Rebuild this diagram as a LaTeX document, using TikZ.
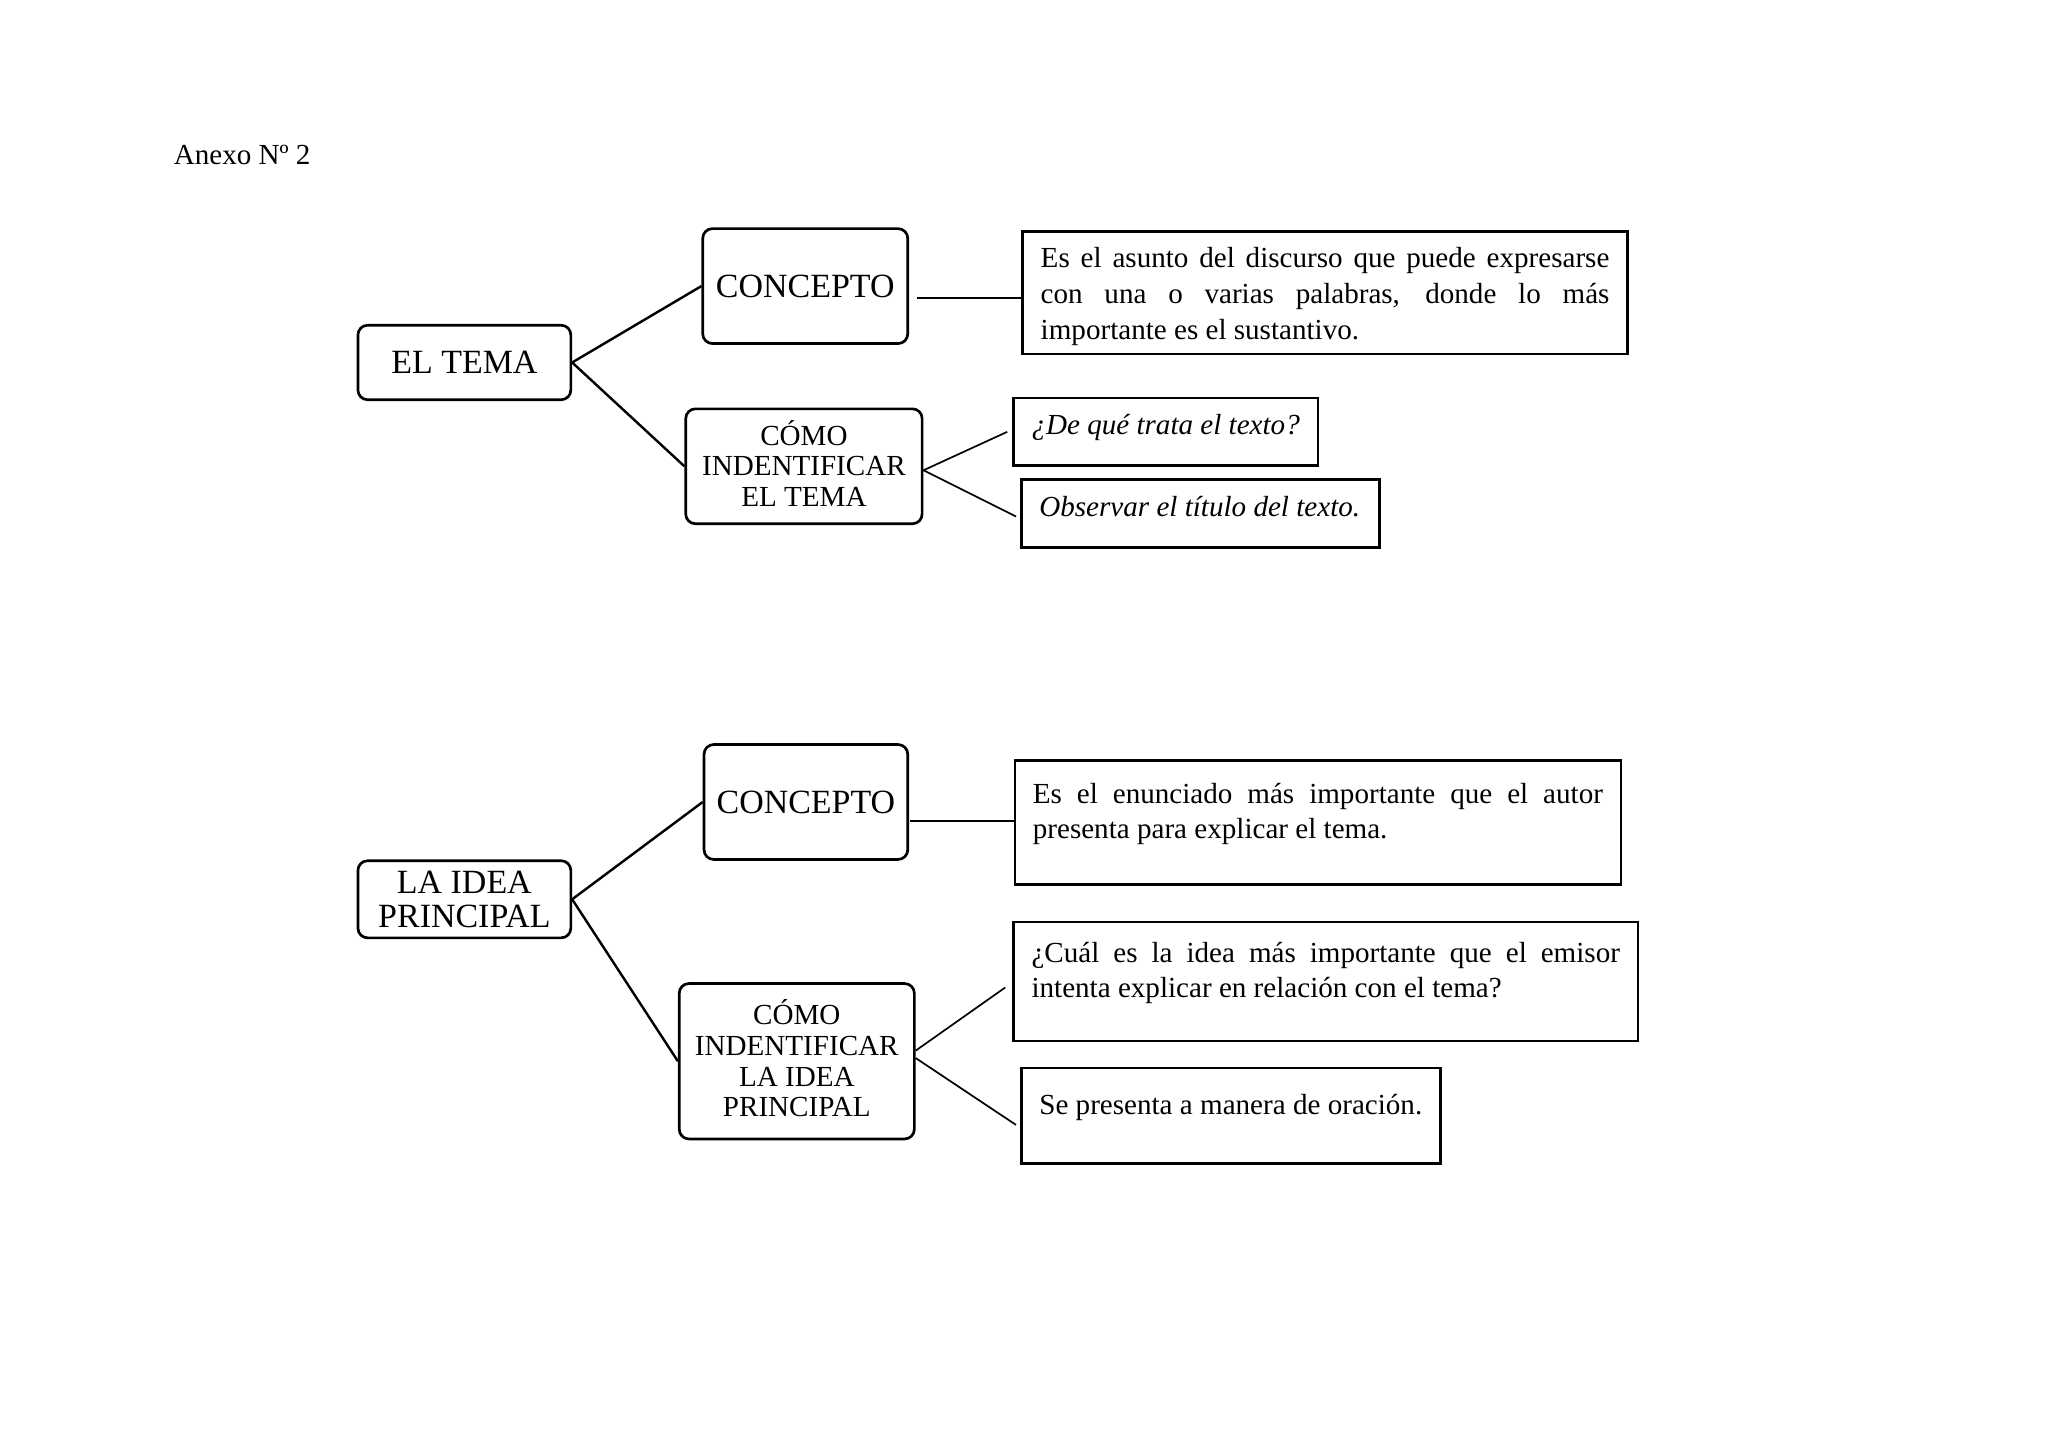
\documentclass[tikz,border=0pt]{standalone}
\usepackage{fontspec}
\setmainfont{Liberation Serif}

\newdimen\unitpx
\unitpx=0.014502cm
\def\cajatexto#1#2#3{\parbox[c][#2\unitpx][t]{#1\unitpx}{\hyphenpenalty=10000\strut #3}}
\def\como{\raisebox{0pt}[8pt]{CÓMO}}

\tikzset{
    roundbox/.style={draw, line width=1.1pt, rounded corners=4pt, anchor=north west,
        align=center, inner sep=0pt},
    textbox/.style={draw, line width=1.1pt, anchor=north west, inner xsep=18\unitpx,
        inner ysep=#1\unitpx, font=\fontsize{12}{14.8}\selectfont},
    textbox/.default=11.6,
    bigtext/.style={font=\fontsize{14}{14}\selectfont},
    smalltext/.style={font=\fontsize{12}{12.7}\selectfont},
    branch/.style={line width=1pt},
    twig/.style={line width=0.7pt}
}

\begin{document}
\begin{tikzpicture}[x=\unitpx, y=-\unitpx]
    \useasboundingbox (0,0) rectangle (2048,1448);

    \node[anchor=base west, inner sep=0pt, font=\fontsize{12}{14}\selectfont] (anexo) at (173.3,164.3) {Anexo Nº 2};

    \node[roundbox, bigtext, minimum width=212.9\unitpx, minimum height=74.5\unitpx] (tema) at (356.6,323.9) {EL TEMA};
    \node[roundbox, bigtext, minimum width=205\unitpx, minimum height=114.9\unitpx] (concTema) at (701.4,227.3) {CONCEPTO};
    \node[roundbox, smalltext, minimum width=236.4\unitpx, minimum height=114.9\unitpx] (comoTema) at (684.4,407.5) {\como\\INDENTIFICAR\\EL TEMA};

    \node[textbox] (defTema) at (1021.4,229.9) {\cajatexto{568.7}{99.6}{Es el asunto del discurso que puede expresarse\linebreak con una o varias palabras, donde lo más\linebreak importante es el sustantivo.}};
    \node[textbox] (quTema) at (1012.2,396.7) {\cajatexto{268.4}{44.4}{\mbox{\itshape ¿De qué trata el texto?}}};
    \node[textbox] (obsTema) at (1020,478.3) {\cajatexto{322}{44.5}{\mbox{\itshape Observar el título del texto.}}};

    \draw[branch] (tema.east) -- (concTema.west);
    \draw[branch] (tema.east) -- (comoTema.west);
    \coordinate (pieTema) at (916.7,298.3);
    \draw[twig] (pieTema) -- (pieTema -| defTema.west);
    \draw[twig] ([yshift=-4\unitpx]comoTema.east) -- ([xshift=-5\unitpx]quTema.west);
    \draw[twig] ([yshift=-4\unitpx]comoTema.east) -- ([xshift=-4\unitpx, yshift=-3\unitpx]obsTema.west);

    \node[roundbox, bigtext, minimum width=212.9\unitpx, minimum height=77.1\unitpx] (idea) at (356.6,859.4) {LA IDEA\\PRINCIPAL};
    \node[roundbox, bigtext, minimum width=203.7\unitpx, minimum height=114.9\unitpx] (concIdea) at (702.7,743.2) {CONCEPTO};
    \node[roundbox, smalltext, minimum width=235.1\unitpx, minimum height=155.4\unitpx] (comoIdea) at (677.9,982.2) {\como\\INDENTIFICAR\\LA IDEA\\PRINCIPAL};

    \node[textbox=17.3] (defIdea) at (1013.5,759.3) {\cajatexto{570.1}{89}{Es el enunciado más importante que el autor\linebreak presenta para explicar el tema.}};
    \node[textbox=14.9] (quIdea) at (1012.2,920.7) {\cajatexto{588.4}{89.1}{¿Cuál es la idea más importante que el emisor\linebreak intenta explicar en relación con el tema?}};
    \node[textbox=21.6] (prIdea) at (1020,1066.7) {\cajatexto{383.3}{52.5}{Se presenta a manera de oración.}};

    \draw[branch] (idea.east) -- (concIdea.west);
    \draw[branch] (idea.east) -- (comoIdea.west);
    \coordinate (pieIdea) at (910,820.7);
    \draw[twig] (pieIdea) -- (pieIdea -| defIdea.west);
    \draw[twig] ([yshift=10.6\unitpx]comoIdea.east) -- ([xshift=-7\unitpx, yshift=-6\unitpx]quIdea.west);
    \draw[twig] ([yshift=3.2\unitpx]comoIdea.east) -- ([xshift=-4\unitpx, yshift=-9\unitpx]prIdea.west);

\end{tikzpicture}
\end{document}
